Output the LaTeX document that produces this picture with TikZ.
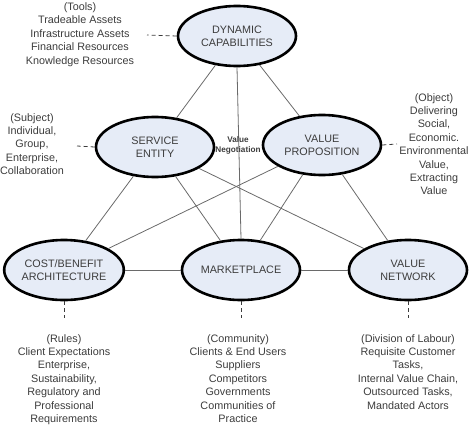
\documentclass[tikz,border=0pt]{standalone}
\usepackage{fontspec}
\setmainfont{Liberation Sans}
\usetikzlibrary{shapes.geometric}
\definecolor{ellfill}{HTML}{E6ECF7}
\definecolor{txt}{HTML}{3C3C3C}
\definecolor{edge}{HTML}{6A6A6A}
\begin{document}
\begin{tikzpicture}[x=1pt,y=-1pt,
  ell/.style={ellipse,draw=black,line width=2.6pt,fill=ellfill,minimum width=118pt,minimum height=60pt,inner sep=0pt,align=center,text=txt,font=\fontsize{10.8}{13}\selectfont},
  lab/.style={align=center,text=txt,font=\fontsize{10.8}{13.4}\selectfont,inner sep=0pt},
  link/.style={draw=edge,line width=0.8pt},
  dashlink/.style={draw=txt,line width=0.8pt,dash pattern=on 4pt off 3pt}]
\useasboundingbox (0,0) rectangle (474,426);
% nodes
\node[ell] (dc) at (237,36) {DYNAMIC\\CAPABILITIES};
\node[ell] (se) at (155,147) {SERVICE\\ENTITY};
\node[ell] (vp) at (322,145) {VALUE\\PROPOSITION};
\node[ell] (cb) at (64,270) {COST/BENEFIT\\ARCHITECTURE};
\node[ell] (mp) at (241,270) {MARKETPLACE};
\node[ell] (vn) at (408,270) {VALUE\\NETWORK};
% edges
\draw[link] (dc) -- (se);
\draw[link] (dc) -- (vp);
\draw[link] (dc.south) -- (mp.north);
\draw[link] (se) -- (cb);
\draw[link] (se) -- (mp);
\draw[link] (se) -- (vn);
\draw[link] (vp) -- (mp);
\draw[link] (vp) -- (vn);
\draw[link] (vp) -- (cb);
\draw[link] (cb) -- (mp);
\draw[link] (mp) -- (vn);
\node[font=\bfseries\fontsize{8.2}{10}\selectfont,text=txt,align=center,inner sep=0pt] (vneg) at (238,145) {Value\\Negotiation};
% labels
\node[lab,anchor=north] (tools) at (80,2.5) {(Tools)\\Tradeable Assets\\Infrastructure Assets\\Financial Resources\\Knowledge Resources};
\node[lab,anchor=north] (subj) at (32,113) {(Subject)\\Individual,\\Group,\\Enterprise,\\Collaboration};
\node[lab,anchor=north] (obj) at (434,93) {(Object)\\Delivering\\Social,\\Economic.\\Environmental\\Value,\\Extracting\\Value};
\node[lab,anchor=north] (rules) at (64,334) {(Rules)\\Client Expectations\\Enterprise,\\Sustainability,\\Regulatory and\\Professional\\Requirements};
\node[lab,anchor=north] (comm) at (238,334) {(Community)\\Clients \& End Users\\Suppliers\\Competitors\\Governments\\Communities of\\Practice};
\node[lab,anchor=north] (div) at (408,334) {(Division of Labour)\\Requisite Customer\\Tasks,\\Internal Value Chain,\\Outsourced Tasks,\\Mandated Actors};
% dashed connectors
\coordinate (tE) at (147,35);
\coordinate (sE) at (77,146);
\coordinate (oE) at (397,144);
\coordinate (rE) at (64,318);
\coordinate (cE) at (241,318);
\coordinate (dE) at (408,318);
\draw[dashlink] (dc.west) -- (tE);
\draw[dashlink] (se.west) -- (sE);
\draw[dashlink] (vp.east) -- (oE);
\draw[dashlink] (cb.south) -- (rE);
\draw[dashlink] (mp.south) -- (cE);
\draw[dashlink] (vn.south) -- (dE);
\end{tikzpicture}
\end{document}
